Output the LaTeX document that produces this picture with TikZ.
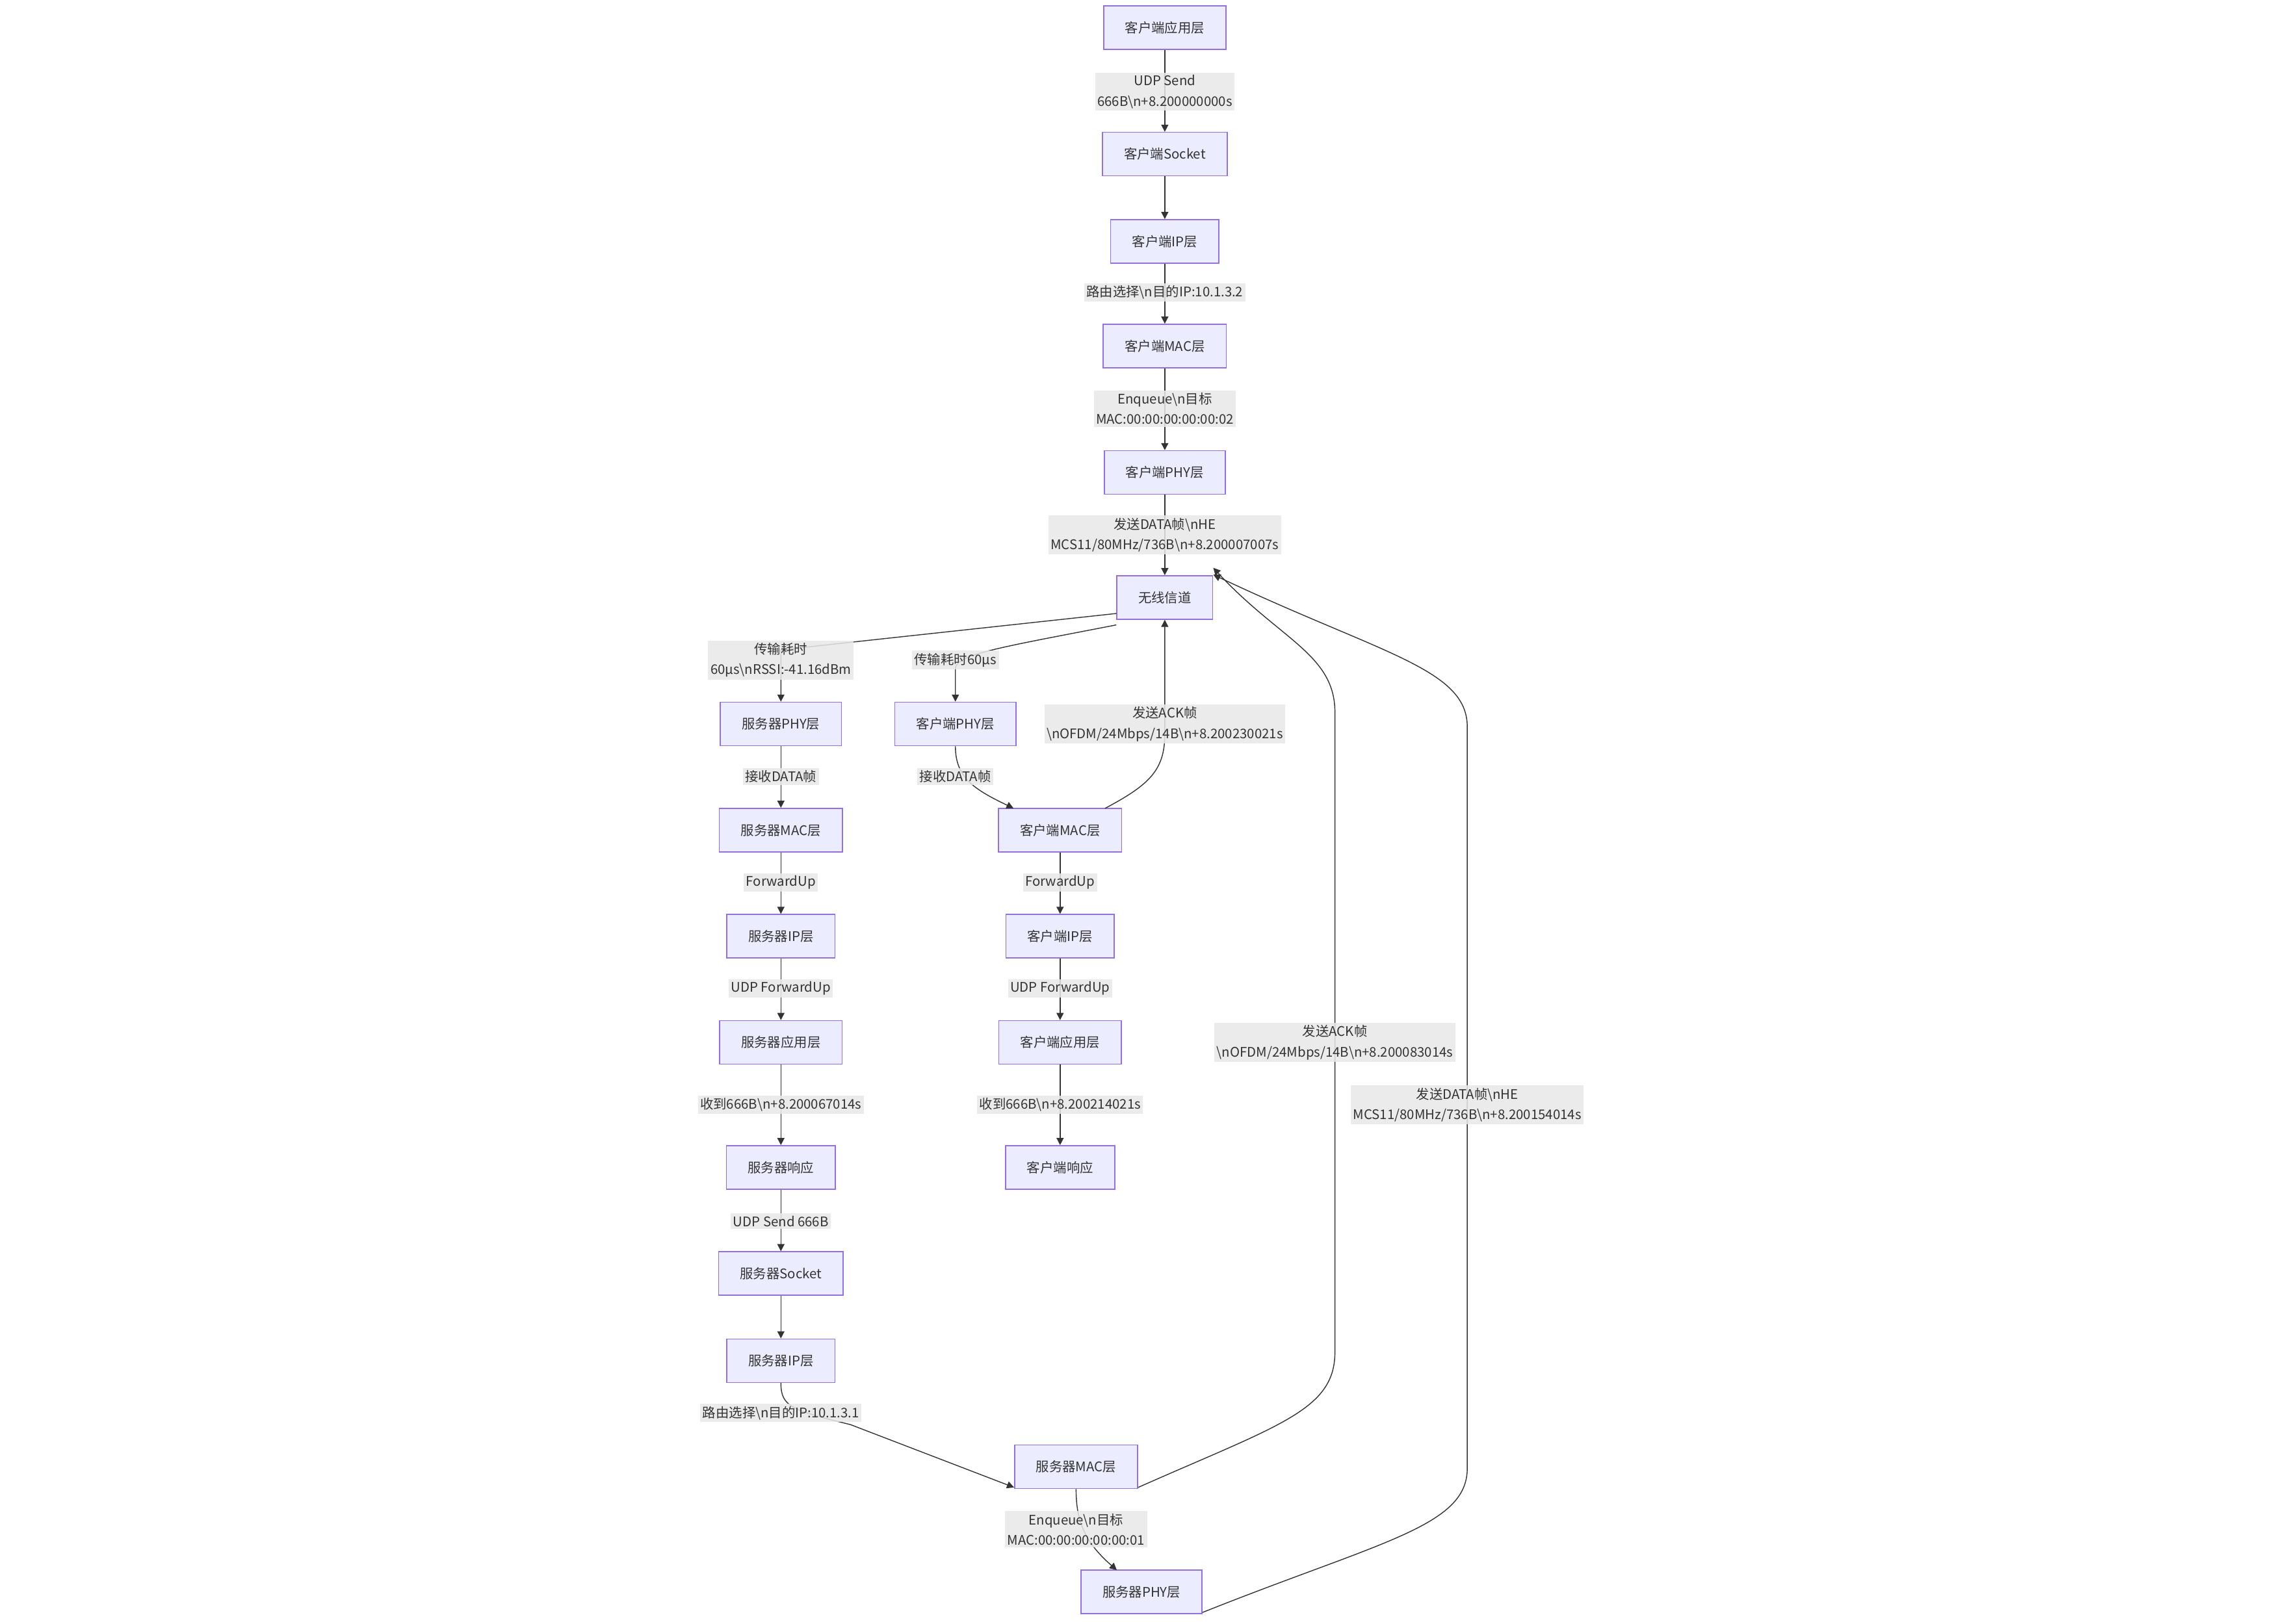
\documentclass[tikz,border=0pt]{standalone}
\usepackage{fontspec}
\setmainfont{Noto Sans CJK SC}
\usetikzlibrary{arrows.meta,positioning}
\definecolor{boxfill}{HTML}{ECECFF}
\definecolor{boxline}{HTML}{9370DB}
\definecolor{lblfill}{HTML}{E8E8E8}
\definecolor{ink}{HTML}{333333}
\tikzset{
  layer/.style={rectangle, draw=boxline, fill=boxfill, line width=0.45pt, inner xsep=0.33cm, minimum height=0.67cm, text=ink},
  lbl/.style={fill=lblfill, fill opacity=0.85, text opacity=1, text=ink, align=center, inner xsep=1pt, inner ysep=1pt},
  flow/.style={draw=ink, line width=0.4pt, -{Triangle[length=1.1mm,width=1.1mm]}},
}
\newcommand{\bs}{\textbackslash{}n}
\begin{document}
\begin{tikzpicture}[x=0.02237cm, y=-0.02237cm, font=\fontsize{5.8}{9}\selectfont]
\useasboundingbox (0,0) rectangle (1568.6,1116.7);

% client send path
\node[layer] (cApp) at (801,19) {客户端应用层};
\node[layer] (cSock) at (801,106) {客户端Socket};
\node[layer] (cIP) at (801,166) {客户端IP层};
\node[layer] (cMAC) at (801,238) {客户端MAC层};
\node[layer] (cPHY) at (801,325) {客户端PHY层};
\node[layer] (chan) at (801,411) {无线信道};

% server receive path
\node[layer] (sPHY) at (537,498) {服务器PHY层};
\node[layer] (sMAC) at (537,571) {服务器MAC层};
\node[layer] (sIP) at (537,644) {服务器IP层};
\node[layer] (sApp) at (537,717) {服务器应用层};
\node[layer] (sResp) at (537,803) {服务器响应};
\node[layer] (sSock) at (537,876) {服务器Socket};
\node[layer] (sIPb) at (537,936) {服务器IP层};
\node[layer] (sMACb) at (740,1009) {服务器MAC层};
\node[layer] (sPHYb) at (785,1095) {服务器PHY层};

% client receive path
\node[layer] (cPHYr) at (657,498) {客户端PHY层};
\node[layer] (cMACr) at (729,571) {客户端MAC层};
\node[layer] (cIPr) at (729,644) {客户端IP层};
\node[layer] (cAppr) at (729,717) {客户端应用层};
\node[layer] (cResp) at (729,803) {客户端响应};

% edges
\draw[flow] (cApp) -- (cSock);
\draw[flow] (cSock) -- (cIP);
\draw[flow] (cIP) -- (cMAC);
\draw[flow] (cMAC) -- (cPHY);
\draw[flow] (cPHY) -- (chan);
\draw[flow] ([yshift=-7]chan.west) -- (537,447) .. controls (537,460) .. (sPHY.north);
\draw[flow] ([yshift=-12]chan.west) .. controls (690,445) and (657,450) .. (657,460) -- (cPHYr.north);
\draw[flow] (sPHY) -- (sMAC);
\draw[flow] (sMAC) -- (sIP);
\draw[flow] (sIP) -- (sApp);
\draw[flow] (sApp) -- (sResp);
\draw[flow] (sResp) -- (sSock);
\draw[flow] (sSock) -- (sIPb);
\draw[flow] (sIPb.south) .. controls (537,968) and (545,970) .. (585,980) -- ([yshift=-9]sMACb.west);
\draw[flow] (sMACb.south) .. controls (740,1045) and (745,1060) .. (768,1080);
\draw[flow] (cPHYr.south) .. controls (657,535) and (670,543) .. (697,556);
\draw[flow] (cMACr) -- (cIPr);
\draw[flow] (cIPr) -- (cAppr);
\draw[flow] (cAppr) -- (cResp);
\draw[flow] (760,556) .. controls (790,540) and (801,530) .. (801,505) -- (chan.south);
\draw[flow] ([yshift=-9]sMACb.east) .. controls (880,980) and (918,970) .. (918,930) -- (918,490) .. controls (918,450) and (880,440) .. ([yshift=13]chan.east);
\draw[flow] ([yshift=-9]sPHYb.east) .. controls (950,1060) and (1009,1050) .. (1009,1010) -- (1009,500) .. controls (1009,460) and (950,450) .. ([yshift=10]chan.east);

% edge labels
\node[lbl] (l1) at (801,63) {UDP Send\\666B\bs{}+8.200000000s};
\node[lbl] (l2) at (801,201) {路由选择\bs{}目的IP:10.1.3.2};
\node[lbl] (l3) at (801,281) {Enqueue\bs{}目标\\MAC:00:00:00:00:00:02};
\node[lbl] (l4) at (801,368) {发送DATA帧\bs{}HE\\MCS11/80MHz/736B\bs{}+8.200007007s};
\node[lbl] (l5) at (537,454) {传输耗时\\60µs\bs{}RSSI:-41.16dBm};
\node[lbl] (l6) at (657,454) {传输耗时60µs};
\node[lbl] (l7) at (801,498) {发送ACK帧\\\bs{}OFDM/24Mbps/14B\bs{}+8.200230021s};
\node[lbl] (l8) at (537,534) {接收DATA帧};
\node[lbl] (l9) at (657,534) {接收DATA帧};
\node[lbl] (l10) at (537,607) {ForwardUp};
\node[lbl] (l11) at (729,607) {ForwardUp};
\node[lbl] (l12) at (537,680) {UDP ForwardUp};
\node[lbl] (l13) at (729,680) {UDP ForwardUp};
\node[lbl] (l14) at (537,760) {收到666B\bs{}+8.200067014s};
\node[lbl] (l15) at (729,760) {收到666B\bs{}+8.200214021s};
\node[lbl] (l16) at (537,840) {UDP Send 666B};
\node[lbl] (l17) at (537,972) {路由选择\bs{}目的IP:10.1.3.1};
\node[lbl] (l18) at (740,1052) {Enqueue\bs{}目标\\MAC:00:00:00:00:00:01};
\node[lbl] (l19) at (918,717) {发送ACK帧\\\bs{}OFDM/24Mbps/14B\bs{}+8.200083014s};
\node[lbl] (l20) at (1009,760) {发送DATA帧\bs{}HE\\MCS11/80MHz/736B\bs{}+8.200154014s};
\end{tikzpicture}
\end{document}
